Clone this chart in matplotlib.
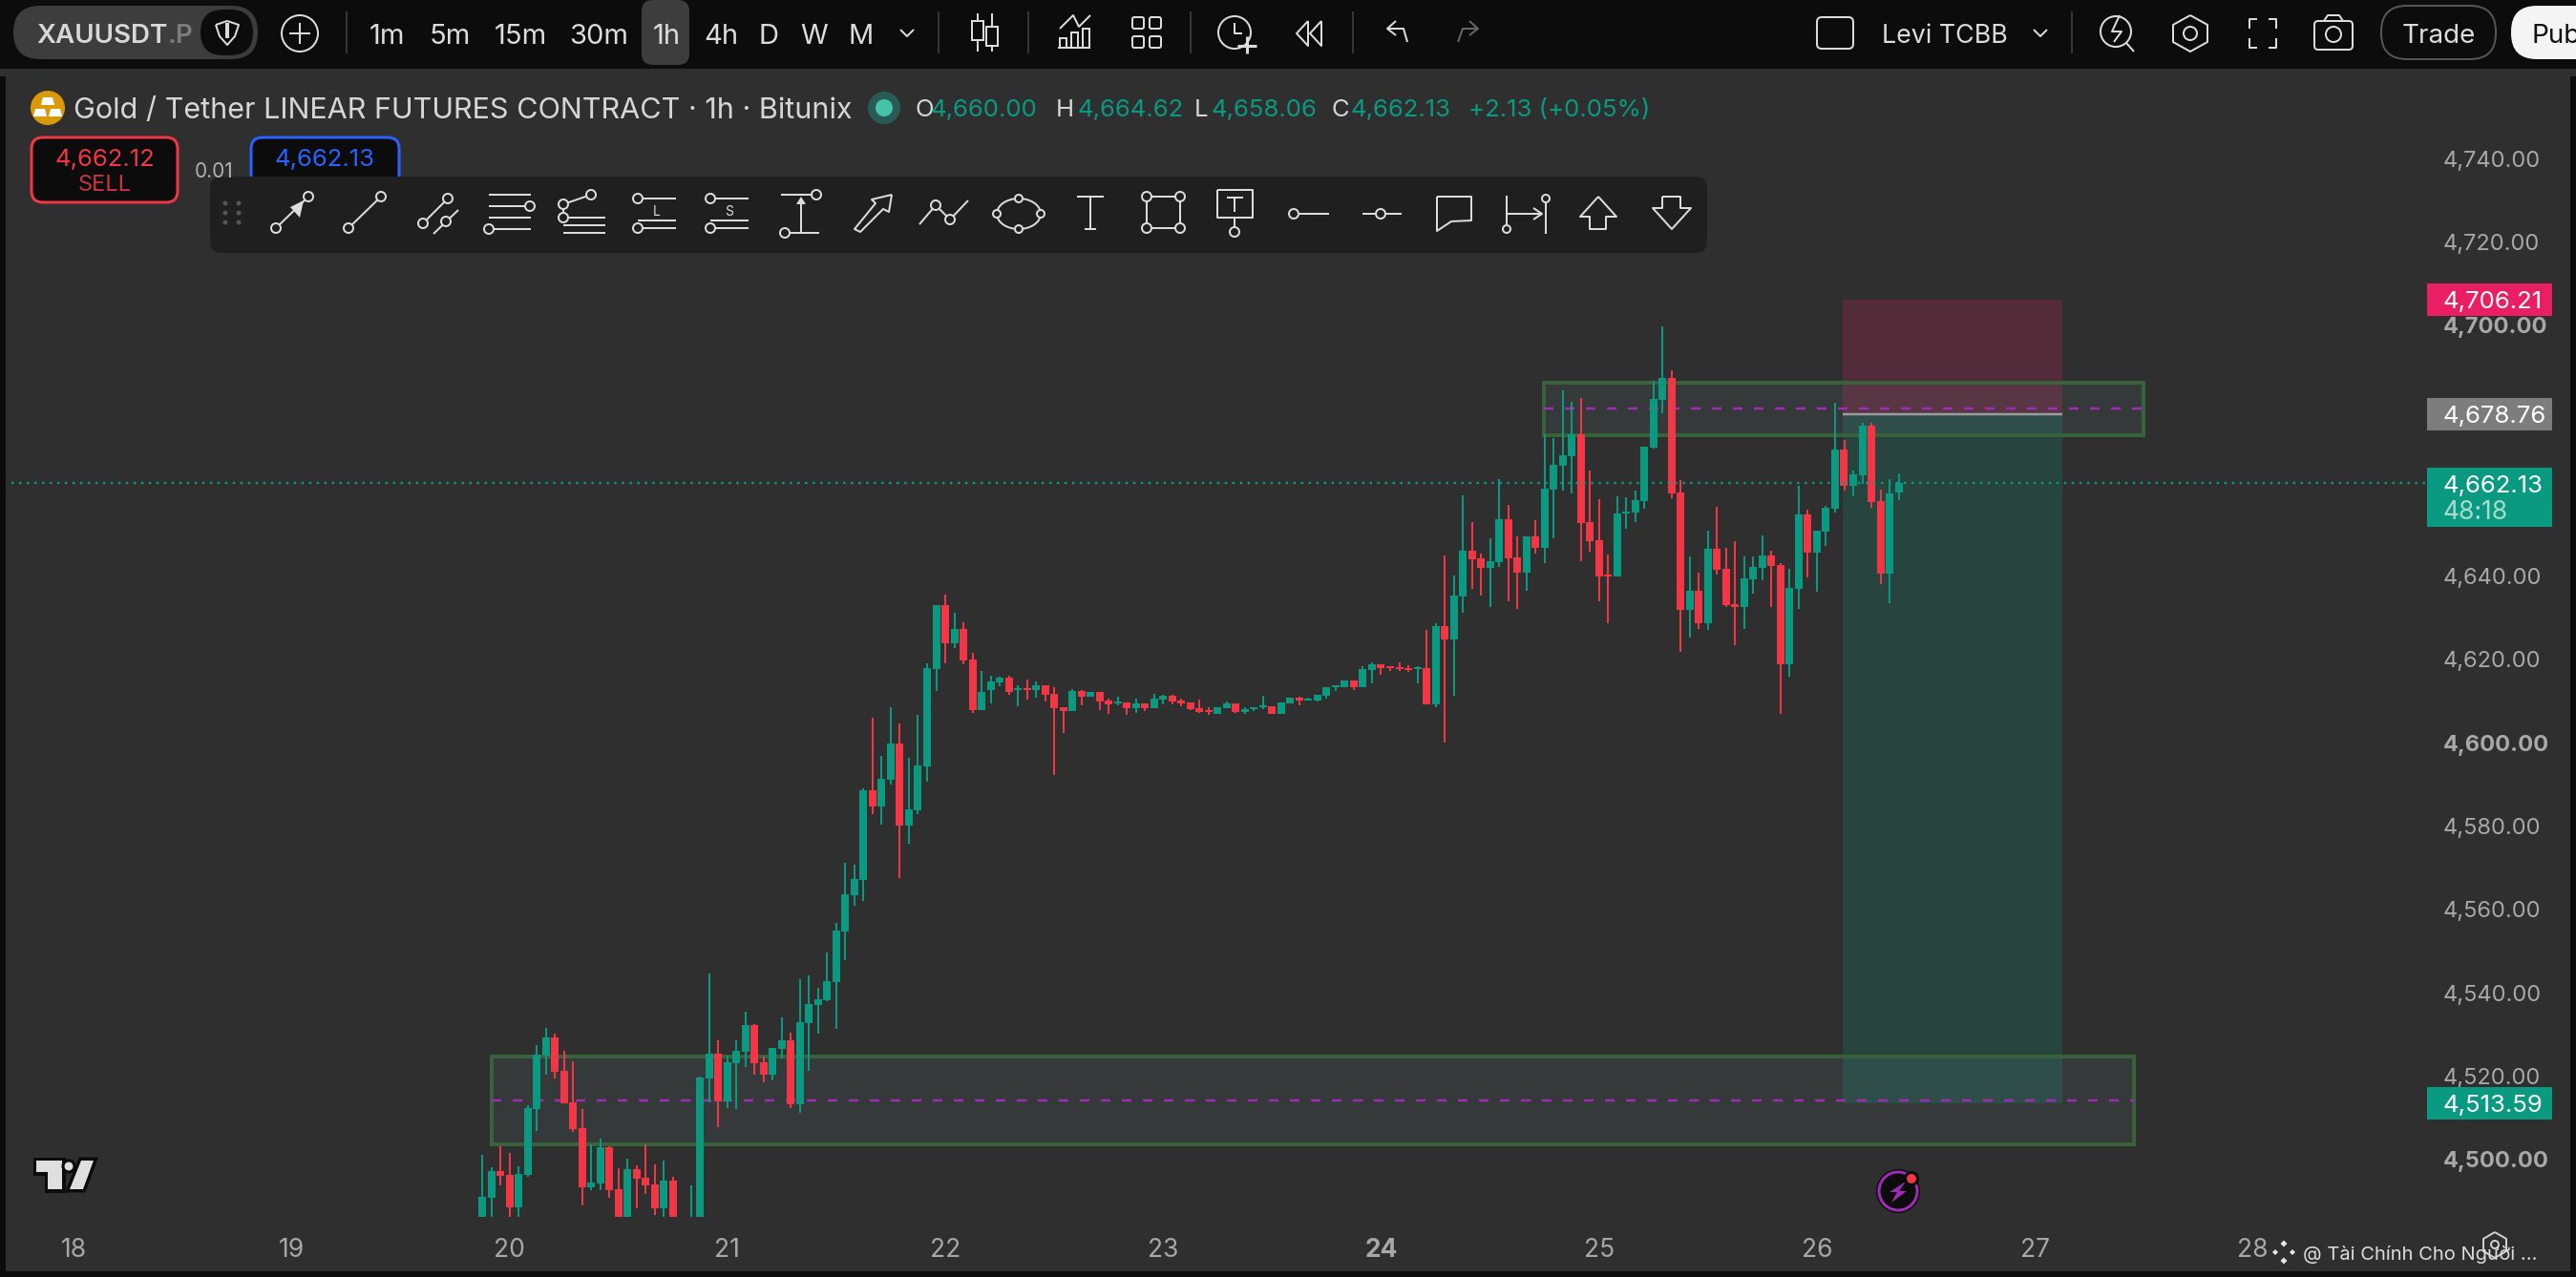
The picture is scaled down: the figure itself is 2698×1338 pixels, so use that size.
import numpy as np
import matplotlib as mpl
mpl.use('Agg')
import matplotlib.pyplot as plt
from matplotlib.patches import Rectangle, Circle, Ellipse, Polygon, FancyBboxPatch

plt.rcParams['font.family'] = ['Inter', 'DejaVu Sans']

# Candles (hourly bars)
opens = [4484, 4490.8, 4497.3, 4496.3, 4488.6, 4496.3, 4512.1, 4524.9, 4529.3, 4521.3,
         4513.7, 4507.6, 4493.4, 4494.3, 4503.0, 4492.9, 4484, 4497.7, 4495.7, 4494.1,
         4488.3, 4495.0, 4484.5, 4482, 4484, 4519.5, 4525.4, 4514.0, 4523.1, 4525.9,
         4532.3, 4523.3, 4520.4, 4526.5, 4528.6, 4513.3, 4532.7, 4537.1, 4538.2, 4542.6,
         4554.7, 4563.4, 4567.0, 4588.6, 4584.7, 4591.1, 4599.8, 4580.1, 4583.8, 4594.3,
         4617.6, 4632.9, 4623.8, 4627.2, 4619.9, 4607.8, 4612.6, 4614.4, 4615.6, 4612.6,
         4613.0, 4612.6, 4613.7, 4611.7, 4608.5, 4607.6, 4612.4, 4611.0, 4612.1, 4610.0,
         4609.4, 4609.6, 4608.2, 4609.4, 4608.2, 4610.3, 4611.2, 4610.0, 4609.6, 4608.2,
         4607.8, 4606.9, 4608.2, 4609.4, 4607.3, 4608.0, 4608.5, 4608.7, 4606.9, 4609.4,
         4610.8, 4610.1, 4610.1, 4611.2, 4613.3, 4613.3, 4614.9, 4613.3, 4617.4, 4618.8,
         4618.3, 4618.1, 4617.9, 4617.6, 4617.9, 4609.2, 4627.9, 4624.7, 4635.0, 4646.0,
         4644.2, 4641.9, 4643.2, 4653.5, 4644.4, 4640.7, 4649.4, 4646.7, 4660.6, 4666.4,
         4668.7, 4673.9, 4652.9, 4648.5, 4640.3, 4639.8, 4654.9, 4655.1, 4657.9, 4670.7,
         4682.2, 4687.4, 4660.0, 4631.8, 4636.4, 4628.6, 4646.5, 4641.6, 4633.2, 4632.5,
         4639.1, 4641.9, 4644.9, 4642.6, 4618.8, 4636.8, 4654.7, 4645.5, 4650.6, 4656.1,
         4670.3, 4661.6, 4664.1, 4676.0, 4657.9, 4640.5, 4660.00]
closes = [4491.1, 4497.3, 4496.1, 4488.6, 4496.6, 4512.4, 4525.2, 4529.3, 4521.1, 4513.5,
          4507.3, 4493.4, 4494.5, 4503.0, 4492.7, 4484, 4497.7, 4495.4, 4493.8, 4488.3,
          4495.0, 4484, 4482, 4485, 4519.7, 4525.4, 4514.0, 4523.3, 4526.1, 4532.3,
          4523.1, 4520.4, 4526.8, 4528.6, 4513.3, 4533.0, 4537.3, 4538.4, 4542.8, 4554.9,
          4563.6, 4567.3, 4588.6, 4584.7, 4591.3, 4599.8, 4580.1, 4584.0, 4594.5, 4617.8,
          4632.9, 4623.8, 4627.2, 4619.7, 4607.8, 4612.2, 4614.6, 4615.6, 4612.1, 4613.0,
          4612.6, 4613.7, 4611.4, 4608.2, 4607.6, 4612.4, 4611.0, 4612.1, 4609.8, 4609.2,
          4609.8, 4608.2, 4609.4, 4608.2, 4610.5, 4611.2, 4609.8, 4609.4, 4608.0, 4607.3,
          4607.3, 4608.5, 4609.4, 4607.3, 4608.0, 4608.5, 4608.9, 4606.9, 4609.6, 4610.8,
          4610.1, 4610.5, 4611.4, 4613.3, 4613.7, 4614.9, 4613.3, 4617.6, 4618.8, 4617.9,
          4617.9, 4617.6, 4617.4, 4618.1, 4609.2, 4627.9, 4624.7, 4635.2, 4646.0, 4643.9,
          4641.9, 4643.5, 4653.5, 4644.2, 4640.7, 4649.4, 4646.7, 4660.9, 4666.6, 4668.9,
          4673.9, 4652.6, 4648.3, 4639.8, 4639.8, 4654.9, 4655.4, 4658.1, 4670.9, 4682.4,
          4687.4, 4659.7, 4631.8, 4636.4, 4628.6, 4646.5, 4641.4, 4632.9, 4632.5, 4639.4,
          4642.1, 4644.9, 4642.3, 4618.8, 4637.1, 4654.7, 4645.5, 4650.8, 4656.3, 4670.3,
          4661.6, 4664.3, 4676.0, 4657.7, 4640.5, 4659.7, 4662.13]
highs = [4501.1, 4498.2, 4503.2, 4501.6, 4498.4, 4513.0, 4527.5, 4531.6, 4530.2, 4526.1,
         4523.6, 4512.1, 4503.7, 4505.0, 4503.2, 4497.9, 4500.2, 4498.6, 4503.7, 4498.9,
         4499.8, 4495.9, 4485, 4493.8, 4519.9, 4544.6, 4528.6, 4524.9, 4528.6, 4535.5,
         4532.5, 4524.7, 4526.8, 4534.1, 4530.4, 4543.2, 4544.2, 4541.2, 4549.7, 4556.8,
         4571.2, 4570.7, 4589.0, 4605.9, 4596.8, 4608.5, 4604.6, 4596.3, 4606.6, 4619.0,
         4632.9, 4635.5, 4631.1, 4628.8, 4621.5, 4617.2, 4616.0, 4615.8, 4616.0, 4613.7,
         4615.1, 4614.6, 4613.7, 4613.3, 4608.5, 4612.8, 4612.6, 4612.1, 4612.1, 4610.5,
         4611.0, 4609.6, 4610.5, 4609.4, 4611.7, 4611.4, 4611.4, 4610.5, 4609.6, 4610.3,
         4608.5, 4608.5, 4609.8, 4609.4, 4608.5, 4608.5, 4611.2, 4608.7, 4609.6, 4610.8,
         4611.0, 4610.8, 4611.4, 4613.3, 4613.7, 4614.9, 4614.9, 4618.3, 4619.2, 4618.8,
         4618.3, 4619.2, 4618.5, 4618.3, 4627.0, 4628.6, 4644.9, 4640.0, 4659.3, 4652.9,
         4645.3, 4649.0, 4663.2, 4657.0, 4649.4, 4649.4, 4653.3, 4673.9, 4673.0, 4684.4,
         4681.7, 4682.6, 4665.2, 4658.4, 4645.1, 4659.0, 4658.8, 4660.4, 4670.9, 4686.7,
         4699.8, 4689.2, 4662.9, 4644.6, 4640.7, 4650.8, 4656.5, 4646.7, 4648.3, 4644.6,
         4644.6, 4649.7, 4646.0, 4643.0, 4641.6, 4661.6, 4655.8, 4650.8, 4656.7, 4681.5,
         4672.5, 4665.2, 4676.7, 4676.7, 4660.6, 4663.1, 4664.62]
lows = [4482, 4485, 4493.8, 4485, 4485, 4495.9, 4506.9, 4520.4, 4519.5, 4513.5,
        4506.6, 4489.0, 4492.7, 4492.7, 4490.8, 4482, 4482, 4488.3, 4491.8, 4486.7,
        4485, 4482, 4480, 4480, 4483, 4513.7, 4507.8, 4512.4, 4512.1, 4522.2,
        4520.4, 4518.5, 4519.0, 4524.3, 4512.4, 4511.2, 4521.3, 4530.2, 4538.0, 4531.4,
        4547.8, 4560.9, 4562.0, 4582.8, 4580.3, 4589.9, 4567.5, 4575.7, 4582.8, 4590.6,
        4612.4, 4619.0, 4622.7, 4618.8, 4607.1, 4607.8, 4609.4, 4613.5, 4611.4, 4608.7,
        4610.3, 4610.8, 4609.8, 4592.2, 4602.3, 4607.6, 4608.9, 4611.0, 4607.8, 4606.9,
        4608.9, 4606.6, 4607.1, 4607.6, 4608.2, 4609.2, 4609.2, 4608.7, 4607.8, 4607.1,
        4606.6, 4606.9, 4608.2, 4607.1, 4606.9, 4607.6, 4608.0, 4606.9, 4606.9, 4609.4,
        4608.9, 4610.1, 4609.8, 4610.5, 4612.4, 4613.3, 4612.6, 4613.3, 4614.2, 4616.2,
        4617.2, 4617.2, 4616.9, 4614.2, 4609.2, 4608.5, 4600.0, 4611.2, 4631.1, 4636.8,
        4635.2, 4632.5, 4642.1, 4633.9, 4632.0, 4636.4, 4645.3, 4643.0, 4649.0, 4660.4,
        4659.7, 4643.5, 4645.8, 4633.9, 4628.6, 4639.8, 4651.3, 4652.9, 4656.1, 4670.5,
        4679.0, 4658.6, 4621.7, 4625.2, 4627.2, 4627.0, 4640.3, 4632.5, 4623.3, 4627.2,
        4635.7, 4638.9, 4632.5, 4606.9, 4615.8, 4632.0, 4639.6, 4636.2, 4647.1, 4655.1,
        4660.4, 4659.0, 4662.0, 4656.3, 4638.0, 4633.4, 4658.06]

day_labels = ['18', '19', '20', '21', '22', '23', '24', '25', '26', '27', '28']
day_bars = [-45, -21, 3, 27, 51, 75, 99, 123, 147, 171, 195]
# 4,660 and 4,680 sit behind the price tags in the chart, so no label for them
price_ticks = [4500, 4520, 4540, 4560, 4580, 4600, 4620, 4640, 4700, 4720, 4740]

last_price = 4662.13
entry_price = 4678.76
stop_price = 4706.21
target_price = 4513.59
position_bars = (149.8, 174.0)

# supply/demand boxes: first bar, last bar, low, high, middle
zone_low = (1.05, 181.9, 4503.7, 4524.7, 4514.2)
zone_high = (116.9, 183.0, 4673.7, 4686.3, 4680.2)

W, H = 2698, 1338
BG = '#2f2f2f'
BAR = '#0c0c0c'
GREEN = '#0a9981'
RED = '#f23645'
PINK = '#e91e63'
PURPLE = '#a12ab8'
ICON = '#dcdcdc'
TOOL = '#1f1f1f'
px = 0.72   # one pixel in points at dpi 100

fig = plt.figure(figsize=(W/100, H/100), dpi=100, facecolor=BAR)


def pixel_axes(zorder):
    a = fig.add_axes([0, 0, 1, 1], zorder=zorder, facecolor='none')
    a.set_xlim(0, W)
    a.set_ylim(H, 0)
    a.axis('off')
    return a


back = pixel_axes(0)
back.add_patch(Rectangle((0, 72), W, 1260, fc=BG, ec='none'))
back.add_patch(Rectangle((0, 80), 6, 1258, fc=BAR, ec='none'))
back.add_patch(Rectangle((2692, 80), 6, 1258, fc=BAR, ec='none'))

# price pane: 9.51 px per bar, 4.37 px per dollar
ax = fig.add_axes([8/W, 1-1275/H, 2532/W, 1202/H], zorder=1, facecolor='none')
ax.set_xlim((8-505)/9.51, (2540-505)/9.51)
ax.set_ylim(4500-60/4.37, 4500+1142/4.37)
for s in ax.spines.values():
    s.set_visible(False)
ax.yaxis.tick_right()
ax.set_yticks(price_ticks)
ax.set_yticklabels([f'{p:,.2f}' for p in price_ticks], fontsize=17, color='#a8a8a8')
for lab, p in zip(ax.get_yticklabels(), price_ticks):
    if p % 100 == 0:
        lab.set_fontweight('bold')
ax.set_xticks(day_bars)
ax.set_xticklabels(day_labels, fontsize=19, color='#a8a8a8')
ax.get_xticklabels()[day_labels.index('24')].set_fontweight('bold')
ax.tick_params(axis='y', length=0, pad=13.7)
ax.tick_params(axis='x', length=0, pad=15.5)

# long position box
ax.add_patch(Rectangle((position_bars[0], entry_price), position_bars[1]-position_bars[0],
                       stop_price-entry_price, fc=PINK, alpha=0.2, ec='none', zorder=1))
ax.add_patch(Rectangle((position_bars[0], target_price), position_bars[1]-position_bars[0],
                       entry_price-target_price, fc=GREEN, alpha=0.2, ec='none', zorder=1))
ax.hlines(entry_price, position_bars[0], position_bars[1], color='#9b9b9b', lw=2.5*px, zorder=2)

for x0, x1, y0, y1, mid in (zone_low, zone_high):
    ax.add_patch(Rectangle((x0, y0), x1-x0, y1-y0, fc='#93b8c5', alpha=0.08, ec='none', zorder=2))
    ax.add_patch(Rectangle((x0, y0), x1-x0, y1-y0, fc='none', ec='#38633a', lw=4*px, zorder=2,
                           joinstyle='miter'))
    ax.plot([x0, x1], [mid, mid], color=PURPLE, lw=2.5*px, dashes=(4, 4.8), dash_capstyle='butt', zorder=3)

# candles
bars = np.arange(len(opens))
o, c, hi, lo = map(np.array, (opens, closes, highs, lows))
colors = np.where(c >= o, GREEN, RED)
ax.vlines(bars, lo, hi, colors=colors, lw=2*px, zorder=4)
ax.bar(bars, np.abs(c-o), bottom=np.minimum(o, c), width=8/9.51, color=colors, linewidth=0, zorder=5)

ax.plot([(12-505)/9.51, ax.get_xlim()[1]], [last_price, last_price], color=GREEN, lw=2.4*px,
        dashes=(1, 2.33), dash_capstyle='butt', zorder=6)

ui = pixel_axes(2)


def yp(price):
    return 1215-(price-4500)*4.37


def seg(pts, lw=2, color=ICON, close=False):
    pts = list(pts)
    if close:
        pts = pts+[pts[0]]
    ui.plot([p[0] for p in pts], [p[1] for p in pts], color=color, lw=lw*px,
            solid_capstyle='butt', zorder=6)


def node(x, y, r=5, fc=TOOL):
    ui.add_patch(Circle((x, y), r, fc=fc, ec=ICON, lw=2*px, zorder=7))


def label(x, y, s, size=17, color=ICON, ha='center', weight='normal'):
    return ui.text(x, y, s, fontsize=size, color=color, ha=ha, va='center_baseline', fontweight=weight, zorder=8)


def pill(x0, y0, x1, y1, fc, ec='none', r=10, lw=2):
    ui.add_patch(FancyBboxPatch((x0+r, y0+r), x1-x0-2*r, y1-y0-2*r, boxstyle=f'round,pad={r}',
                                fc=fc, ec=ec, lw=lw*px, zorder=3))


# price tags
for price, tag_color in ((stop_price, PINK), (entry_price, '#7d7d7d'), (target_price, GREEN)):
    ui.add_patch(Rectangle((2542, yp(price)-17), 131, 34, fc=tag_color, ec='none', zorder=3))
    label(2558, yp(price), f'{price:,.2f}', size=18.5, color='white', ha='left')
ui.add_patch(Rectangle((2542, 490), 131, 62, fc=GREEN, ec='none', zorder=3))
label(2558, 507, f'{last_price:,.2f}', size=18.5, color='white', ha='left')
label(2558, 534, '48:18', size=19, color='#a9dccf', ha='left')

# top bar
ui.add_patch(Rectangle((0, 0), W, 72, fc=BAR, ec='none', zorder=2))
pill(14, 6, 270, 62, '#3d3d3d', r=28)
pill(210, 10, 265, 58, '#0c0c0c', r=24)
label(38, 35, 'XAUUSDT', size=20, color='#d8d8d8', ha='left', weight='semibold')
label(176, 35, '.P', size=20, color='#7c7c7c', ha='left', weight='semibold')
seg([(226, 26), (238, 22), (250, 26), (246, 38), (238, 47), (230, 38)], close=True)
seg([(238, 24), (238, 40)], lw=4)
ui.add_patch(Circle((314, 35), 19, fc='none', ec=ICON, lw=2*px, zorder=6))
seg([(303, 35), (325, 35)])
seg([(314, 24), (314, 46)])
for x in (363, 983, 1077, 1247, 1417, 2170):
    seg([(x, 12), (x, 56)], lw=1.5, color='#444444')
pill(672, 0, 722, 68, '#3d3d3d', r=12)
intervals = ['1m', '5m', '15m', '30m', '1h', '4h', 'D', 'W', 'M']
interval_x = [405, 471, 545, 627, 698, 755, 805, 853, 902]
for x, s in zip(interval_x, intervals):
    label(x, 35, s, size=21)
seg([(943, 31), (950, 38), (957, 31)])
seg([(2130, 31), (2137, 38), (2144, 31)])

# top bar icons
seg([(1024, 14), (1024, 54)])
seg([(1039, 14), (1039, 54)])
ui.add_patch(Rectangle((1018, 22), 12, 20, fc=BAR, ec=ICON, lw=2*px, zorder=7))
ui.add_patch(Rectangle((1033, 28), 12, 20, fc=BAR, ec=ICON, lw=2*px, zorder=7))
seg([(1110, 30), (1124, 16), (1130, 28), (1142, 16)])
seg([(1108, 50), (1142, 50)])
for x, y in ((1110, 40), (1122, 34), (1134, 30)):
    ui.add_patch(Rectangle((x, y), 7, 50-y, fc='none', ec=ICON, lw=2*px, zorder=6))
for x in (1186, 1204):
    for y in (18, 38):
        ui.add_patch(FancyBboxPatch((x+2, y+2), 8, 8, boxstyle='round,pad=2', fc='none', ec=ICON, lw=2*px, zorder=6))
ui.add_patch(Circle((1293, 34), 17, fc='none', ec=ICON, lw=2*px, zorder=6))
seg([(1293, 24), (1293, 35), (1301, 35)])
seg([(1296, 48), (1316, 48)], lw=3)
seg([(1306, 38), (1306, 56)], lw=3)
seg([(1370, 22), (1358, 35), (1370, 48), (1370, 22)])
seg([(1384, 22), (1372, 35), (1384, 48), (1384, 22)])
seg([(1462, 22), (1453, 30), (1462, 37)])
seg([(1453, 30), (1470, 30), (1474, 44)])
seg([(1539, 22), (1548, 30), (1539, 37)], color='#666666')
seg([(1548, 30), (1532, 30), (1527, 44)], color='#666666')
ui.add_patch(FancyBboxPatch((1908, 23), 28, 23, boxstyle='round,pad=5', fc='none', ec=ICON, lw=2*px, zorder=6))
label(2037, 35, 'Levi TCBB', size=19.3)
ui.add_patch(Circle((2216, 33), 16, fc='none', ec=ICON, lw=2*px, zorder=6))
seg([(2220, 16), (2212, 33), (2222, 33), (2214, 44)])
seg([(2227, 45), (2235, 54)])
hexagon = [(2294, 16), (2312, 26), (2312, 44), (2294, 54), (2276, 44), (2276, 26)]
seg(hexagon, close=True)
ui.add_patch(Circle((2294, 35), 7, fc='none', ec=ICON, lw=2*px, zorder=6))
seg([(2364, 20), (2356, 20), (2356, 30)])
seg([(2376, 20), (2384, 20), (2384, 30)])
seg([(2356, 40), (2356, 50), (2364, 50)])
seg([(2384, 40), (2384, 50), (2376, 50)])
ui.add_patch(FancyBboxPatch((2428, 26), 32, 22, boxstyle='round,pad=4', fc='none', ec=ICON, lw=2*px, zorder=6))
seg([(2434, 22), (2438, 16), (2450, 16), (2454, 22)])
ui.add_patch(Circle((2444, 36), 8, fc='none', ec=ICON, lw=2*px, zorder=6))
pill(2494, 6, 2614, 62, BAR, ec='#555555', r=27)
label(2554, 35, 'Trade', size=20)
pill(2630, 6, 2750, 62, '#f4f4f4', r=27)
label(2652, 35, 'Pub', size=20, color='#111111', ha='left')

# legend row
ui.add_patch(Circle((50, 113), 18, fc='#d99a0a', ec='none', zorder=6))
for bx, by in ((50, 106), (42, 118), (58, 118)):
    ui.add_patch(Polygon([(bx-5, by-4), (bx+5, by-4), (bx+7, by+4), (bx-7, by+4)], fc='white', ec='none', zorder=7))
label(77, 113, 'Gold / Tether LINEAR FUTURES CONTRACT · 1h · Bitunix', size=22, color='#d6d6d6', ha='left')
ui.add_patch(Circle((926, 113), 17, fc='#2a5a55', ec='none', zorder=6))
ui.add_patch(Circle((926, 113), 9, fc='#45c4a8', ec='none', zorder=7))
ohlc_text = [(959, 'O', '#d6d6d6'), (975, '4,660.00', GREEN), (1106, 'H', '#d6d6d6'), (1128, '4,664.62', GREEN),
             (1251, 'L', '#d6d6d6'), (1268, '4,658.06', GREEN), (1394, 'C', '#d6d6d6'), (1414, '4,662.13', GREEN),
             (1538, '+2.13 (+0.05%)', GREEN)]
for x, s, col in ohlc_text:
    label(x, 113, s, size=18.5, color=col, ha='left')

# sell / buy buttons
pill(263, 144, 418, 212, BAR, ec='#2962ff', r=12, lw=3)
label(340, 165, '4,662.13', size=18.5, color='#2962ff')
pill(33, 144, 186, 212, BAR, ec=RED, r=12, lw=3)
label(110, 165, '4,662.12', size=18.5, color=RED)
label(110, 192, 'SELL', size=17, color='#c93440')
label(224, 178, '0.01', size=15, color='#b0b0b0')

# drawing toolbar
ui.add_patch(FancyBboxPatch((232, 197), 1544, 56, boxstyle='round,pad=12', fc=TOOL, ec='none', zorder=5))
for x in (236, 250):
    for y in (213, 223, 233):
        ui.add_patch(Circle((x, y), 2.5, fc='#555555', ec='none', zorder=6))
seg([(289, 239), (323, 206)])
node(289, 239)
node(323, 206)
ui.add_patch(Polygon([(318, 210), (304, 217), (314, 228)], fc=ICON, ec='none', zorder=7))
seg([(365, 239), (399, 206)])
node(365, 239)
node(399, 206)
seg([(443, 234), (469, 208)])
seg([(454, 245), (480, 220)])
node(443, 234)
node(469, 208)
node(467, 232)
for y in (204, 216, 228, 240):
    seg([(512, y), (556, y)])
node(555, 216)
node(512, 240)
for y in (228, 236, 244):
    seg([(590, y), (634, y)])
seg([(590, 214), (619, 204)])
seg([(590, 214), (590, 228)])
node(619, 204)
node(590, 214)
node(590, 228)
for cx, s in ((668, 'L'), (744, 'S')):
    seg([(cx, 208), (cx+40, 208)])
    seg([(cx, 231), (cx+40, 231)])
    seg([(cx, 239), (cx+40, 239)])
    node(cx, 208)
    node(cx, 239)
    label(cx+20, 220, s, size=10)
seg([(818, 204), (858, 204)])
seg([(822, 244), (858, 244)])
seg([(839, 212), (839, 244)])
ui.add_patch(Polygon([(839, 206), (834, 214), (844, 214)], fc=ICON, ec='none', zorder=7))
node(855, 204)
node(822, 244)
seg([(934, 204), (931, 222), (925, 219), (901, 243), (895, 240), (917, 213), (913, 209)], close=True)
seg([(963, 235), (980, 215), (995, 230), (1014, 210)])
node(980, 215)
node(995, 230)
ui.add_patch(Ellipse((1067, 224), 46, 32, fc='none', ec=ICON, lw=2*px, zorder=6))
for x, y in ((1067, 208), (1067, 240), (1044, 224), (1090, 224)):
    node(x, y, r=4)
seg([(1128, 206), (1156, 206)])
seg([(1142, 206), (1142, 240)])
seg([(1136, 240), (1148, 240)])
seg([(1201, 206), (1236, 206), (1236, 239), (1201, 239)], close=True)
for x in (1201, 1236):
    for y in (206, 239):
        node(x, y)
seg([(1275, 199), (1312, 199), (1312, 228), (1275, 228)], close=True)
seg([(1285, 207), (1302, 207)])
seg([(1293, 207), (1293, 222)])
seg([(1293, 228), (1293, 243)])
node(1293, 243)
seg([(1355, 224), (1392, 224)])
node(1355, 224)
seg([(1427, 224), (1468, 224)])
node(1446, 224)
seg([(1505, 206), (1541, 206), (1541, 231), (1520, 232), (1505, 242)], close=True)
seg([(1619, 205), (1619, 245)])
seg([(1578, 205), (1578, 235)])
seg([(1578, 224), (1615, 224)])
seg([(1606, 218), (1615, 224), (1606, 230)])
node(1619, 208, r=4)
node(1578, 240, r=4)
seg([(1674, 206), (1693, 227), (1682, 227), (1682, 240), (1665, 240), (1665, 227), (1655, 227)], close=True)
seg([(1741, 206), (1760, 206), (1760, 218), (1771, 218), (1751, 240), (1731, 218), (1741, 218)], close=True)

# tradingview logo
logo_t = [(38, 1216), (65, 1216), (65, 1246), (50, 1246), (50, 1228), (38, 1228)]
logo_slash = [(85, 1216), (98, 1216), (87, 1246), (73, 1246)]
for shape in (logo_t, logo_slash):
    ui.add_patch(Polygon(shape, fc='#dfdfdf', ec=BAR, lw=7*px, zorder=5, joinstyle='miter'))
    ui.add_patch(Polygon(shape, fc='#dfdfdf', ec='none', zorder=6))
ui.add_patch(Circle((72, 1222), 6, fc='#dfdfdf', ec=BAR, lw=3*px, zorder=6))

# lightning marker
ui.add_patch(Circle((1988, 1248), 23, fc=BAR, ec='none', zorder=5))
ui.add_patch(Circle((1988, 1248), 20, fc=BAR, ec=PURPLE, lw=3*px, zorder=6))
ui.add_patch(Polygon([(1996, 1238), (1979, 1249), (1987, 1249), (1981, 1260), (1997, 1248), (1989, 1248)],
                     fc=PURPLE, ec='none', zorder=7))
ui.add_patch(Circle((2002, 1235), 8, fc=BAR, ec='none', zorder=7))
ui.add_patch(Circle((2002, 1235), 5, fc=RED, ec='none', zorder=8))

# watermark
for dx, dy, r in ((0, -9, 3.5), (-9, 0, 3), (9, 0, 3), (0, 9, 3.5)):
    ui.add_patch(Polygon([(2392+dx, 1312+dy-r), (2392+dx+r, 1312+dy), (2392+dx, 1312+dy+r), (2392+dx-r, 1312+dy)],
                         fc='#e6e6e6', ec='none', zorder=7))
label(2412, 1312, '@ Tài Chính Cho Người ...', size=14.5, color='#dcdcdc', ha='left')
seg([(2613, 1291), (2625, 1298), (2625, 1311), (2613, 1318), (2601, 1311), (2601, 1298)], close=True, color='#cfcfcf')
ui.add_patch(Circle((2613, 1304), 4, fc='none', ec='#cfcfcf', lw=2*px, zorder=6))

plt.savefig('out.png', dpi=100, facecolor=BAR)
